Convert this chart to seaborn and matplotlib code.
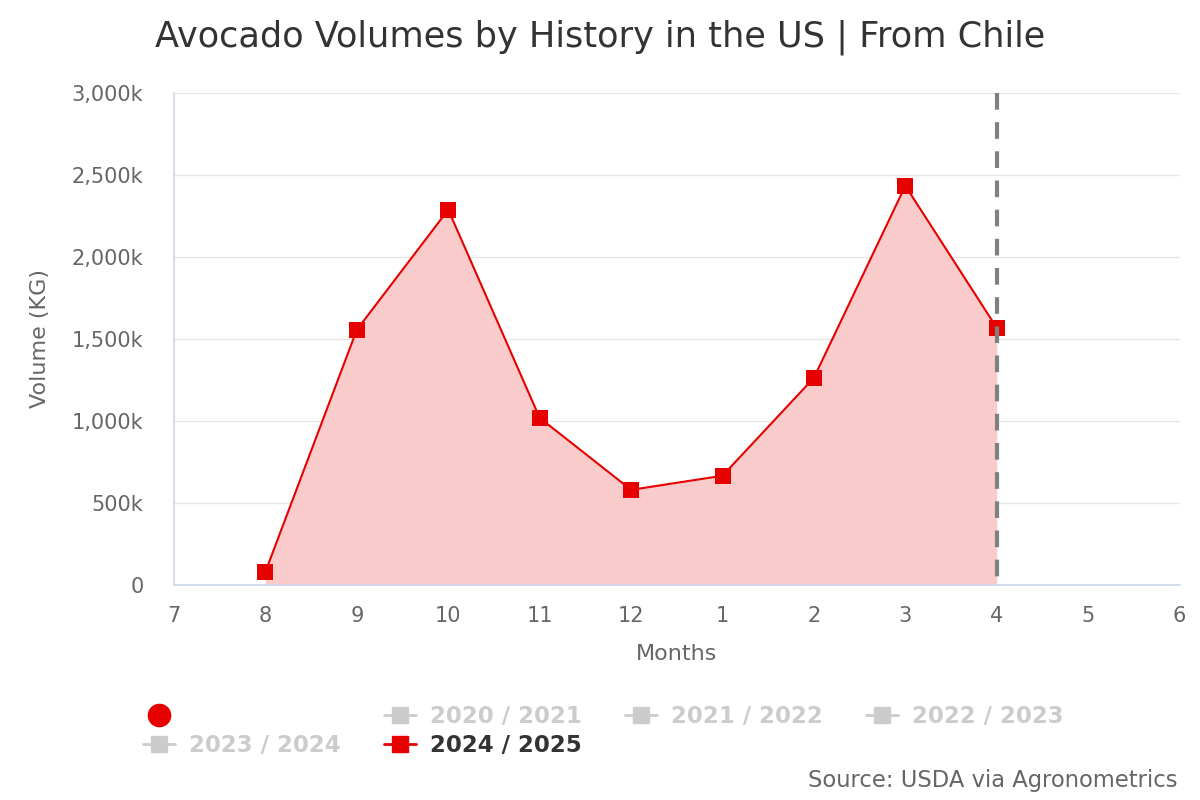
import matplotlib
matplotlib.use("Agg")
import matplotlib.pyplot as plt
from matplotlib.lines import Line2D
from matplotlib.ticker import FuncFormatter
import seaborn as sns
import pandas as pd

# ---- data ----
month_labels = ["7", "8", "9", "10", "11", "12", "1", "2", "3", "4", "5", "6"]
series_months = ["8", "9", "10", "11", "12", "1", "2", "3", "4"]
volumes_2024_2025 = [79000, 1555000, 2287000, 1018000, 579000, 665000, 1262000, 2433000, 1567000]
legend_labels = ["2020 / 2021", "2021 / 2022", "2022 / 2023", "2023 / 2024", "2024 / 2025"]
current_month = "4"
y_ticks = [0, 500000, 1000000, 1500000, 2000000, 2500000, 3000000]

pos = {m: i for i, m in enumerate(month_labels)}
df = pd.DataFrame({"x": [pos[m] for m in series_months], "volume": volumes_2024_2025})

sns.set_theme(style="white")
plt.rcParams["font.family"] = ["DejaVu Sans"]

RED = "#e60000"
GRAY_TXT = "#666666"
LIGHT = "#cccccc"

fig = plt.figure(figsize=(12, 8), dpi=100)
ax = fig.add_axes([0.145, 0.269, 0.838, 0.615])

ax.fill_between(df["x"], df["volume"], 0, color="#f9cbcb", zorder=1, linewidth=0)
sns.lineplot(data=df, x="x", y="volume", ax=ax, color=RED, lw=1.5, marker="s",
             markersize=11, markeredgewidth=0, zorder=3)
ax.axvline(pos[current_month], ymin=1, ymax=0, color="#808080", ls=(0, (4, 3)), lw=3, zorder=4)

ax.set_xlim(0, len(month_labels) - 1)
ax.set_ylim(0, 3000000)
ax.set_xticks(range(len(month_labels)))
ax.set_xticklabels(month_labels)
ax.set_yticks(y_ticks)
ax.yaxis.set_major_formatter(FuncFormatter(lambda v, p: "0" if v == 0 else f"{int(v/1000):,}k"))
ax.grid(axis="y", color="#e6e6e6", lw=1)
ax.grid(axis="x", visible=False)
for s in ["top", "right"]:
    ax.spines[s].set_visible(False)
for s in ["left", "bottom"]:
    ax.spines[s].set_color("#ccd6eb")
    ax.spines[s].set_linewidth(1.2)
ax.tick_params(axis="both", colors=GRAY_TXT, labelsize=15, length=0)
ax.tick_params(axis="x", pad=15)
ax.tick_params(axis="y", pad=22)
ax.set_xlabel("Months", color=GRAY_TXT, fontsize=16, labelpad=13)
ax.set_ylabel("Volume (KG)", color=GRAY_TXT, fontsize=16, labelpad=16)

fig.text(0.5, 0.953, "Avocado Volumes by History in the US | From Chile",
         ha="center", va="center", fontsize=25.3, color="#333333")
fig.text(0.981, 0.025, "Source: USDA via Agronometrics", ha="right", va="center",
         fontsize=16.3, color=GRAY_TXT)

# ---- legend ----
circle = Line2D([], [], color=RED, marker="o", ls="none", markersize=16)
gray_h = [Line2D([], [], color=LIGHT, marker="s", markersize=11, lw=2) for _ in range(4)]
red_h = Line2D([], [], color=RED, marker="s", markersize=11, lw=2)
handles = [circle, gray_h[3], gray_h[0], red_h, gray_h[1], gray_h[2]]
labels = ["", legend_labels[3], legend_labels[0], legend_labels[4], legend_labels[1], legend_labels[2]]
leg = fig.legend(handles, labels, loc="upper left", bbox_to_anchor=(0.102, 0.145), ncol=4,
                 frameon=False, handlelength=1.4, handletextpad=0.6,
                 columnspacing=1.9, labelspacing=0.3,
                 prop={"weight": "bold", "size": 16.5})
for t in leg.get_texts():
    t.set_color("#333333" if t.get_text() == legend_labels[4] else LIGHT)

fig.savefig("out.png", dpi=100)
